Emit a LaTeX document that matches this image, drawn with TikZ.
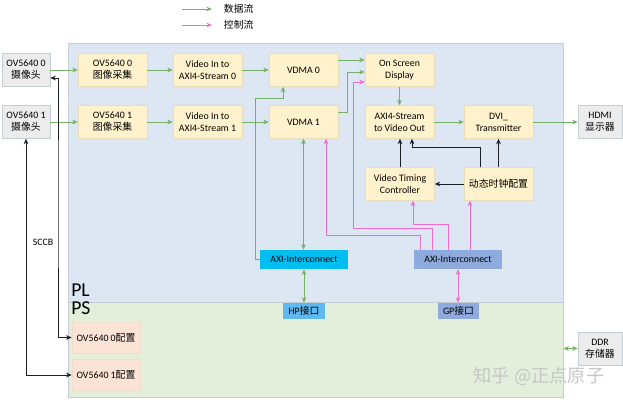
\documentclass[tikz,border=0pt]{standalone}
\usepackage{fontspec}
\setmainfont{Carlito}
\newfontfamily\zhfont{Noto Sans CJK SC}
\newcommand{\zh}[1]{{\zhfont #1}}
\usetikzlibrary{arrows.meta}
\definecolor{plblue}{RGB}{221,231,244}
\definecolor{psgreen}{RGB}{227,239,219}
\definecolor{ipyellow}{RGB}{255,242,204}
\definecolor{devgray}{RGB}{236,236,236}
\definecolor{cfgpeach}{RGB}{251,228,213}
\definecolor{axicyan}{RGB}{0,190,240}
\definecolor{gpblue}{RGB}{143,170,220}
\definecolor{hpblue}{RGB}{95,185,240}
\definecolor{datagreen}{RGB}{118,176,104}
\definecolor{ctlpink}{RGB}{238,108,205}
\definecolor{edgegray}{RGB}{196,204,212}
\definecolor{sigblack}{RGB}{30,32,40}

\begin{document}
\begin{tikzpicture}[
x=0.025cm,y=-0.025cm,
font=\fontsize{7}{8.5}\selectfont,
>={Stealth[length=4pt,width=3.4pt]},
ip/.style={draw=ipyellow!85!black!60!ipyellow,fill=ipyellow,minimum width=1.72cm,minimum height=0.82cm,align=center,inner sep=1pt},
dev/.style={draw=edgegray,fill=devgray,minimum width=1.2cm,minimum height=0.82cm,align=center,inner sep=1pt},
cfg/.style={draw=cfgpeach!90!black!40!cfgpeach,fill=cfgpeach,minimum width=1.7cm,minimum height=0.78cm,inner sep=1pt},
bus/.style={minimum width=2.2cm,minimum height=0.48cm,inner sep=1pt},
port/.style={minimum width=1.04cm,minimum height=0.4cm,inner sep=1pt},
region/.style={draw=edgegray,minimum width=12.375cm,inner sep=0pt},
area/.style={anchor=west,inner sep=0pt,font=\fontsize{14}{14}\selectfont},
data/.style={draw=datagreen,line width=0.7pt},
ctl/.style={draw=ctlpink,line width=0.7pt},
sig/.style={draw=sigblack,line width=0.7pt}
]
\useasboundingbox (0,0) rectangle (623,403);

% PL / PS areas
\node[region,fill=plblue,minimum height=6.475cm] (pl) at (315.5,172.5) {};
\node[region,fill=psgreen,minimum height=2.375cm] (ps) at (315.5,349.5) {};
\node[area] (pltxt) at (71,290) {PL};
\node[area] (pstxt) at (71,308) {PS};

% legend
\coordinate (lg1a) at (182,9);
\coordinate (lg1b) at (212,9);
\coordinate (lg2a) at (182,25);
\coordinate (lg2b) at (212,25);
\node[anchor=west] (lg1) at (219,9) {\zh{数据流}};
\node[anchor=west] (lg2) at (219,25) {\zh{控制流}};
\draw[data,->] (lg1a) -- (lg1b);
\draw[ctl,->] (lg2a) -- (lg2b);

% cameras and display
\node[dev] (cam0) at (26,70) {OV5640 0\\\zh{摄像头}};
\node[dev] (cam1) at (26,122) {OV5640 1\\\zh{摄像头}};
\node[dev,minimum width=1.1cm] (hdmi) at (600,122) {HDMI\\\zh{显示器}};
\node[dev,minimum width=1.1cm] (ddr) at (600,348.5) {DDR\\\zh{存储器}};

% PL blocks
\node[ip] (cap0) at (112.5,70) {OV5640 0\\\zh{图像采集}};
\node[ip] (cap1) at (112.5,122) {OV5640 1\\\zh{图像采集}};
\node[ip] (vin0) at (207.5,70) {Video In to\\AXI4-Stream 0};
\node[ip] (vin1) at (207.5,122) {Video In to\\AXI4-Stream 1};
\node[ip] (vdma0) at (303.5,70) {VDMA 0};
\node[ip] (vdma1) at (303.5,122) {VDMA 1};
\node[ip] (osd) at (399.5,70) {On Screen\\Display};
\node[ip] (vout) at (399.5,122) {AXI4-Stream\\to Video Out};
\node[ip] (dvi) at (498.5,122) {DVI\_\\Transmitter};
\node[ip] (vtc) at (400,184) {Video Timing\\Controller};
\node[ip] (dclk) at (498.5,184) {\zh{动态时钟配置}};
\node[bus,fill=axicyan] (axihp) at (304,259.5) {AXI-Interconnect};
\node[bus,fill=gpblue] (axigp) at (458,259.5) {AXI-Interconnect};

% PS blocks
\node[port,fill=hpblue] (hp) at (304,311) {HP\zh{接口}};
\node[port,fill=gpblue] (gp) at (458.5,311) {GP\zh{接口}};
\node[cfg] (cfg0) at (106,337.5) {OV5640 0\zh{配置}};
\node[cfg] (cfg1) at (106,375) {OV5640 1\zh{配置}};

\node[text=black!22,font=\zhfont\fontsize{13}{15}\selectfont] (wm) at (539,376) {知乎 @正点原子};

% data flow
\draw[data,->] (cam0) -- (cap0);
\draw[data,->] (cap0) -- (vin0);
\draw[data,->] (vin0) -- (vdma0);
\draw[data,->] (cam1) -- (cap1);
\draw[data,->] (cap1) -- (vin1);
\draw[data,->] (vin1) -- (vdma1);
\draw[data,->] (vdma0.east |- 0,60) -- (osd.west |- 0,60);
\draw[data,->] (vdma1.east |- 0,112) -| (347,72) -- (osd.west |- 0,72);
\draw[data,->] (osd) -- (vout);
\draw[data,->] (vout) -- (dvi);
\draw[data,->] (dvi) -- (hdmi);
\draw[data,->] (axihp.west) -| (255,98) -| (vdma0.south -| 283,0);
\draw[data,<->] (vdma1.south) -- (vdma1.south |- axihp.north);
\draw[data,<->] (axihp.south) -- (hp.north);
\draw[data,<->] (ddr.west -| ps.east) -- (ddr.west);

% control flow
\draw[ctl,->] (axigp.north -| 420,0) |- (326,235) -- (vdma1.south -| 326,0);
\draw[ctl,->] (axigp.north -| 432,0) |- (353,228) |- (osd.west |- 0,82);
\draw[ctl,->] (axigp.north -| 448,0) |- (413,224) -- (vtc.south -| 413,0);
\draw[ctl,->] (axigp.north -| 470,0) -- (dclk.south -| 470,0);
\draw[ctl,<->] (axigp.south) -- (axigp.south |- gp.north);

% timing / clock
\draw[sig,->] (vtc.north) -- (vtc.north |- vout.south);
\draw[sig,->] (dclk.north -| 480,0) |- (412,147) -- (vout.south -| 412,0);
\draw[sig,->] (dclk.north) -- (dvi.south);
\draw[sig,->] (dclk) -- (vtc);

% SCCB
\draw[sig,<->] (cam0.east |- 0,78) -| (58,200) |- (cfg0.west);
\draw[sig,<->] (cam1.south) |- (cfg1.west);
\node (sccb) at (43,242) {SCCB};
\end{tikzpicture}
\end{document}
